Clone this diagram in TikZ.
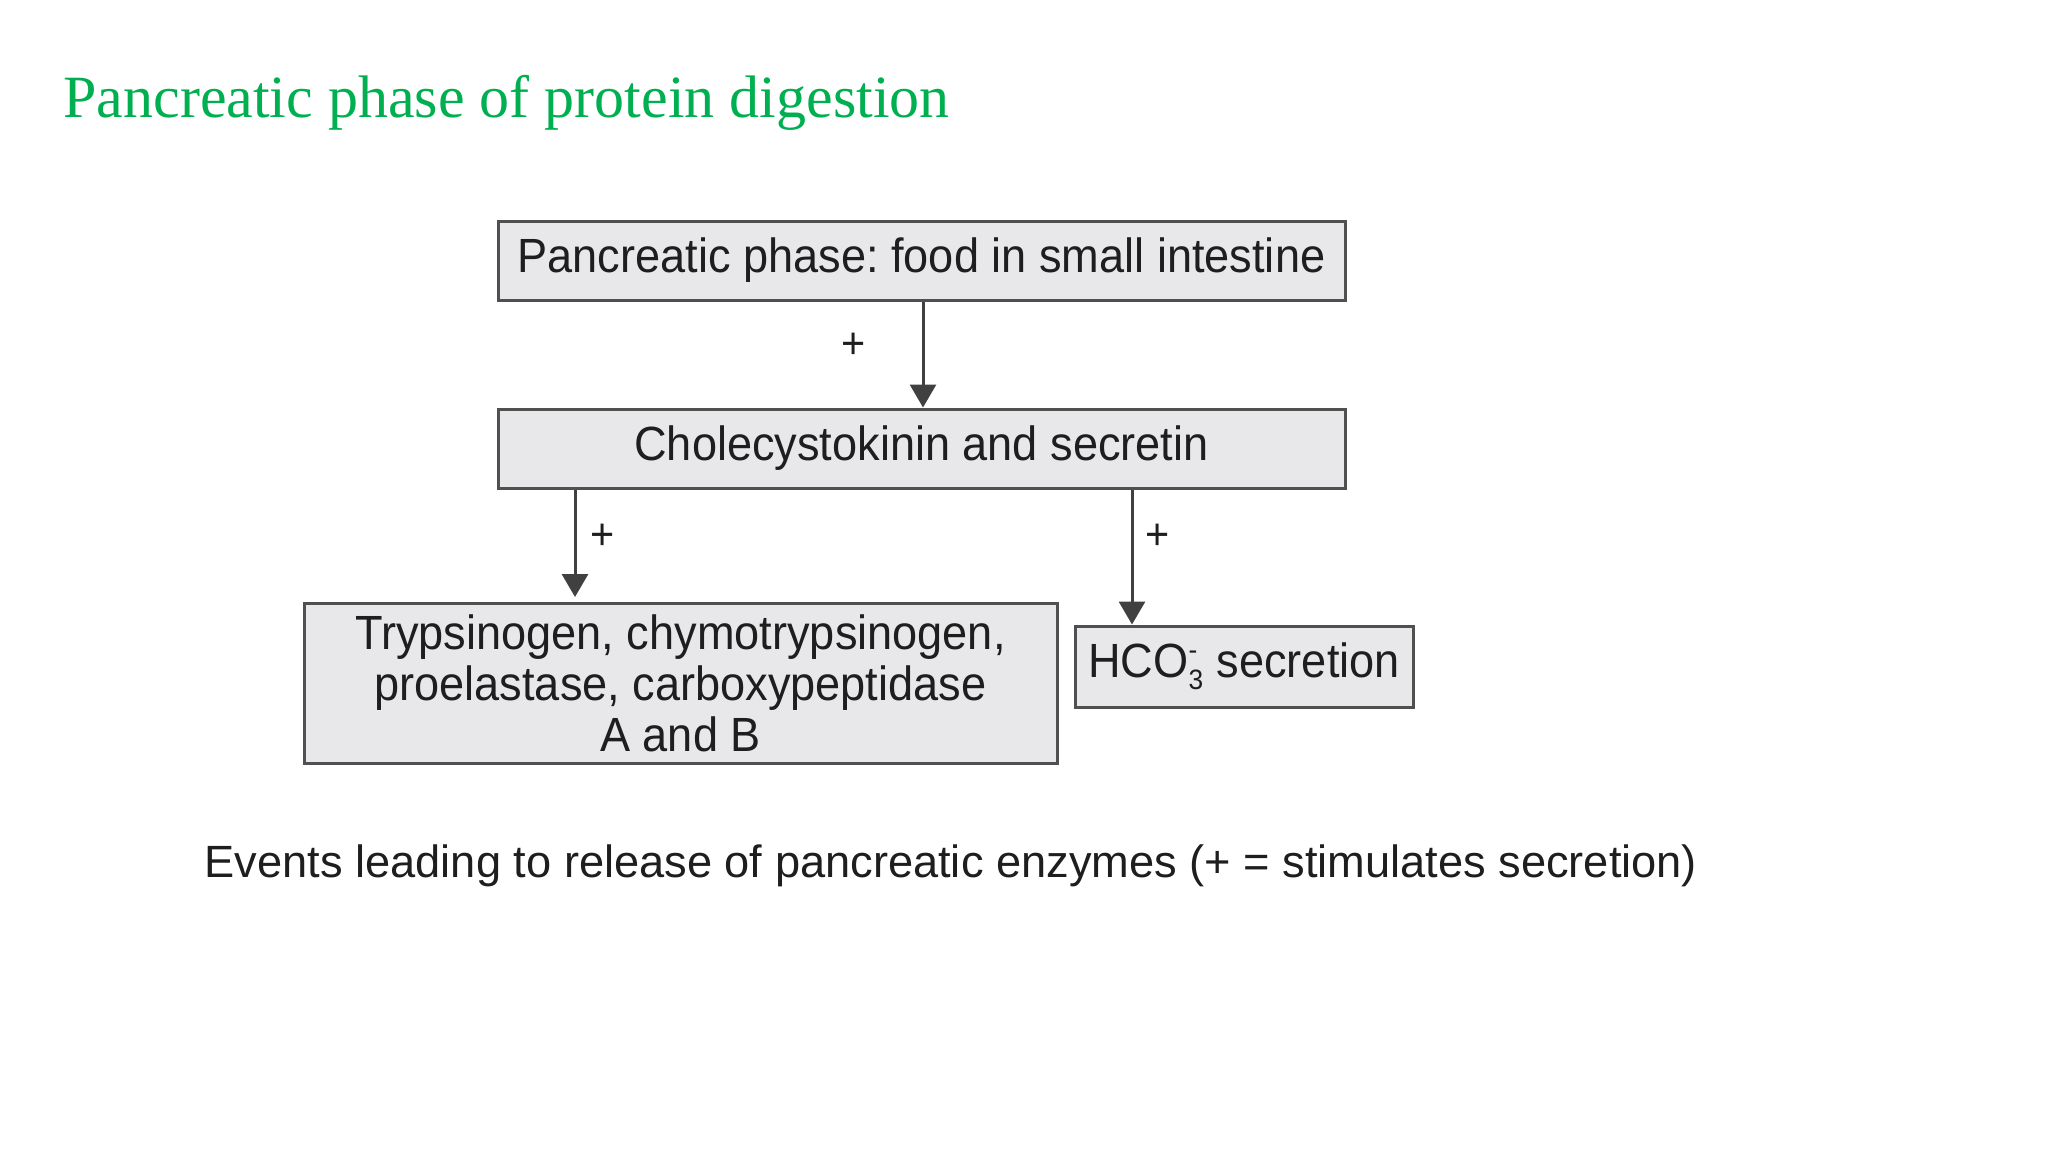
\documentclass[tikz,border=0pt]{standalone}
\usepackage{fontspec}
\setmainfont{Liberation Serif}
\newfontfamily\boxfont[FakeStretch=0.94]{Liberation Sans}
\newfontfamily\capfont{Liberation Sans}
\usetikzlibrary{arrows.meta}
\frenchspacing
\definecolor{titlegreen}{RGB}{0,176,80}
\definecolor{boxfill}{RGB}{232,232,234}
\definecolor{boxline}{RGB}{80,80,80}
\definecolor{arrowcol}{RGB}{64,64,64}
\definecolor{txt}{RGB}{30,30,30}
\newcommand{\smallch}[1]{\mbox{\boxfont\fontsize{14}{14}\selectfont #1}}
\tikzset{
  box/.style={draw=boxline, line width=1.5pt, fill=boxfill, inner sep=0pt, align=center,
    font=\boxfont\fontsize{24}{25.5}\selectfont\frenchspacing, text=txt},
  arr/.style={draw=arrowcol, line width=1.5pt, -{Triangle[width=13pt,length=11.5pt]}},
  plus/.style={font=\boxfont\fontsize{22}{24}\selectfont, text=txt}
}
\begin{document}
\begin{tikzpicture}[x=0.5pt,y=-0.5pt]
\path[use as bounding box] (0,0) rectangle (2048,1152);
\node[anchor=base west, font=\fontsize{30}{33}\selectfont, text=titlegreen, inner sep=0pt] (title) at (63,117) {Pancreatic phase of protein digestion};
\node[box, minimum width=423.5pt, minimum height=39.5pt] (b1) at (921.5,260.5) {Pancreatic phase: food in small intestine};
\node[box, minimum width=423.5pt, minimum height=39.5pt] (b2) at (921.5,448.5) {Cholecystokinin and secretin};
\node[box, minimum width=376.5pt, minimum height=80pt] (b3) at (680.5,683) {Trypsinogen, chymotrypsinogen,\\proelastase, carboxypeptidase\\A and B};
\node[box, minimum width=169pt, minimum height=40.5pt] (b4) at (1244,666.5) {HCO$^{\smallch{-}}_{\smallch{3}}$ secretion};
\coordinate (c1) at (923,0);
\coordinate (c2) at (575,0);
\coordinate (c3) at (1132,0);
\coordinate (c2end) at (575,597);
\draw[arr] (b1.south -| c1) -- (b2.north -| c1);
\draw[arr] (b2.south -| c2) -- (c2end);
\draw[arr] (b2.south -| c3) -- (b4.north -| c3);
\node[plus] (p1) at (854,346) {+};
\node[plus] (p2) at (603,537) {+};
\node[plus] (p3) at (1158,537) {+};
\node[font=\capfont\fontsize{22.6}{25}\selectfont, text=txt, inner sep=0pt] (cap) at (951,866) {Events leading to release of pancreatic enzymes (+ = stimulates secretion)};
\end{tikzpicture}
\end{document}
